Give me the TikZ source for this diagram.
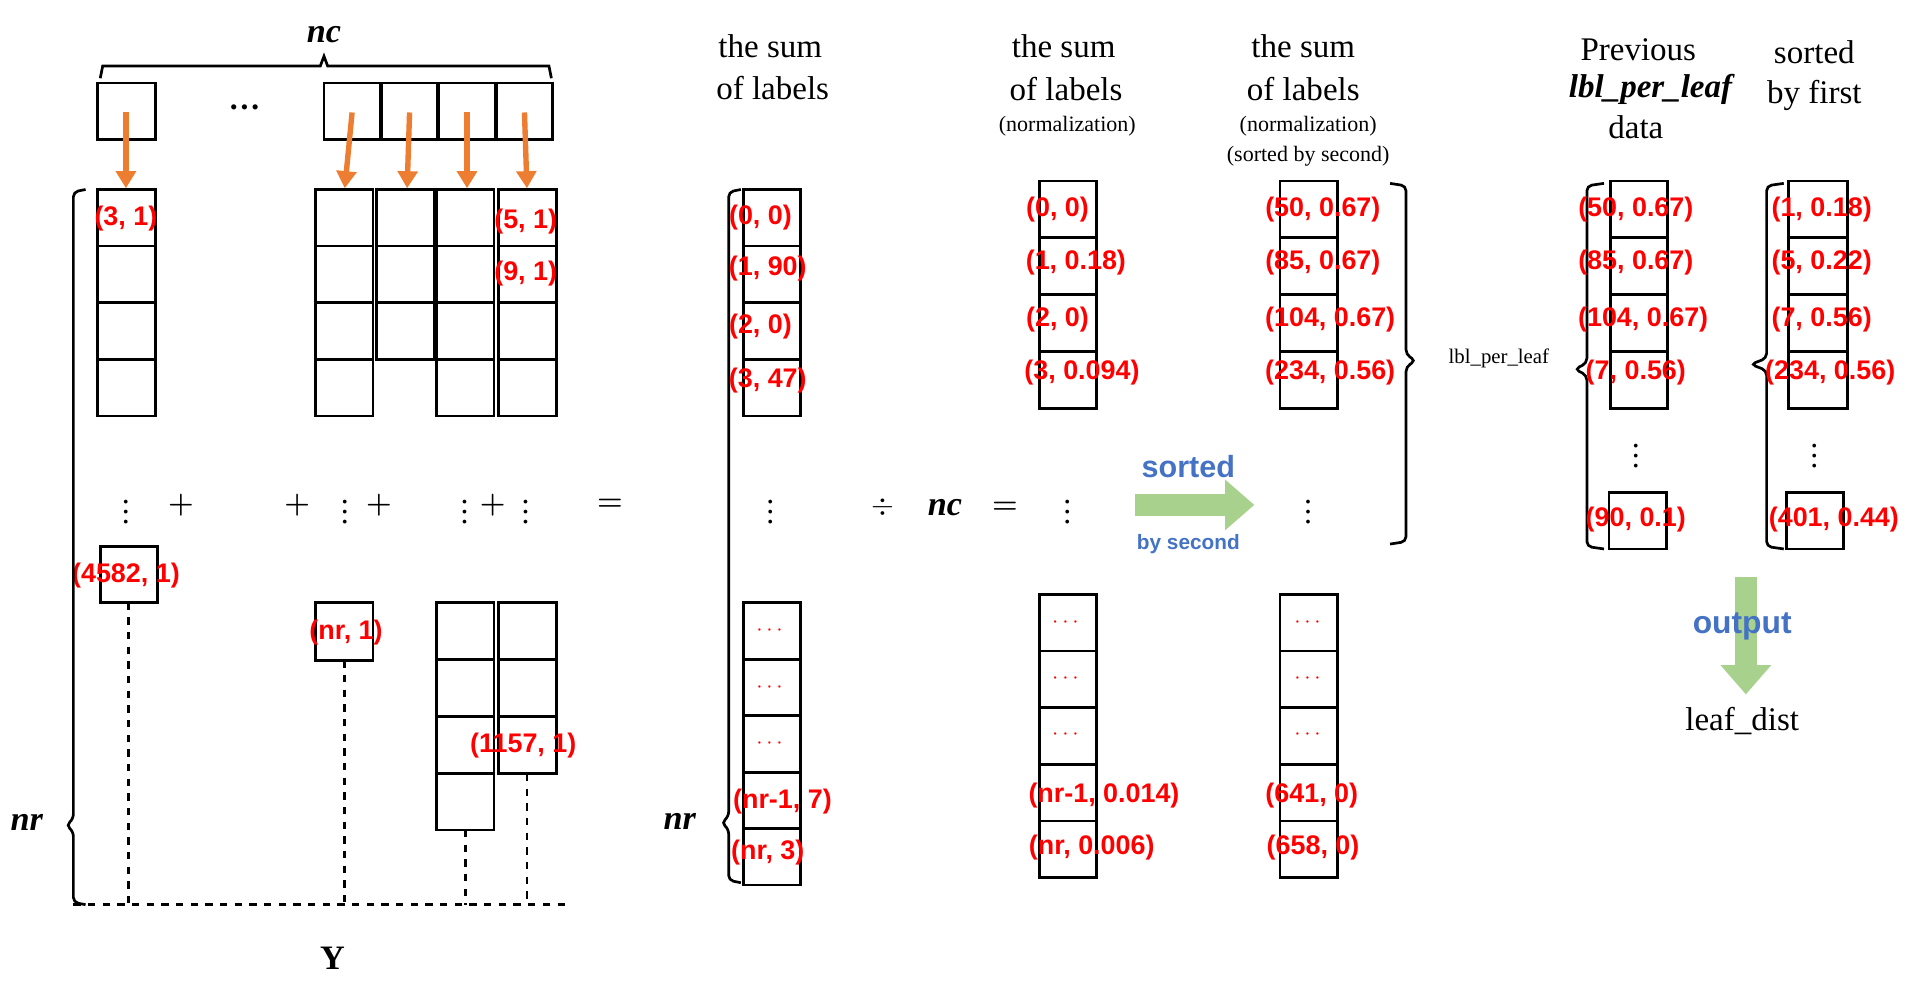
\documentclass[tikz,border=0pt]{standalone}
\usepackage{amsmath}
\usepackage{fontspec}
\setmainfont{Liberation Serif}
\newfontfamily\lblfont{Liberation Sans}
\usetikzlibrary{arrows.meta}
\definecolor{lblred}{RGB}{255,0,0}
\definecolor{arrorange}{RGB}{237,125,49}
\definecolor{arrgreen}{RGB}{169,209,142}
\definecolor{txtblue}{RGB}{68,114,196}
\tikzset{every picture/.style={line width=1.1pt},
  pair/.style={text=lblred,font=\lblfont\bfseries\fontsize{11}{13}\selectfont,inner sep=0pt},
  title/.style={font=\fontsize{13.5}{16}\selectfont,inner sep=0pt},
  subtitle/.style={font=\fontsize{9}{11}\selectfont,inner sep=0pt},
  sym/.style={font=\fontsize{13}{15}\selectfont,inner sep=0pt},
  mvar/.style={font=\bfseries\itshape\fontsize{14}{16}\selectfont,inner sep=0pt},
  orng/.style={arrorange,line width=2.2pt,-{Triangle[length=7pt,width=8pt]}},
  fat/.style={arrgreen,line width=9pt,-{Triangle[length=12pt,width=20pt]}},
  blue/.style={text=txtblue,font=\lblfont\bfseries,inner sep=0pt}}

\begin{document}
\begin{tikzpicture}[x=0.5pt,y=0.5pt,yscale=-1,xscale=1]
    \useasboundingbox (0,0) rectangle (1568,802);

    %Top row of nc columns
    \node[mvar] (nc) at (265,28) {nc};
    \draw (82,64) -- (84,54) -- (262,54) -- (265,46) -- (268,54) -- (449,54) -- (451,64);
    \draw (80,68) rectangle (127,114);
    \node[sym] (topdots) at (200,88) {\textbf{\dots}};
    \foreach \x in {265,312,359,406} \draw (\x,68) rectangle ++(46,46);

    %Columns of Y
    \foreach \x/\n in {80/4,258/4,308/3,357/4,408/4}
      \foreach \i in {1,...,\n} \draw (\x,155+46.3*\i-46.3) rectangle ++(47,46.3);
    \draw (82,447) rectangle (129,493);
    \draw (258,493) rectangle (305,540);
    \foreach \i in {1,...,4} \draw (357,493+46.5*\i-46.5) rectangle ++(47,46.5);
    \foreach \i in {1,...,3} \draw (408,493+46.5*\i-46.5) rectangle ++(47,46.5);

    %Orange arrows
    \foreach \a/\b/\c in {103/103/1,288/282/2,335/333/3,382/382/4,429/431/5} {
      \coordinate (s\c) at (\a,92); \coordinate (t\c) at (\b,154);
      \draw[orng] (s\c) -- (t\c);}

    \node[pair] (p31) at (103,179) {(3, 1)};
    \node[pair] (p51) at (430,181) {(5, 1)};
    \node[pair] (p91) at (430,224) {(9, 1)};
    \node[pair] (p4582) at (103,471) {(4582, 1)};
    \node[pair] (pnr1) at (283,517) {(nr, 1)};
    \node[pair] (p1157) at (428,610) {(1157, 1)};

    %Dots and operators
    \foreach \x/\s in {103/\vdots,148/+,243/+,282/\vdots,310/+,380/\vdots,403/+,430/\vdots,499/=}
      \node[sym] at (\x,413) {$\boldsymbol{\s}$};

    %Dashed connectors to Y
    \coordinate (d1) at (105,740); \coordinate (d2) at (282,740);
    \coordinate (d3) at (381,740); \coordinate (d4) at (431,740);
    \draw[dashed] (105,493) -- (d1);
    \draw[dashed] (282,540) -- (d2);
    \draw[dashed] (381,679) -- (d3);
    \draw[dashed] (431,633) -- (d4);
    \draw[dashed] (60,740) -- (462,740);
    \node[font=\bfseries\fontsize{14}{16}\selectfont] (Y) at (272,784) {Y};

    %Left bracket nr
    \draw[rounded corners=2pt] (70,155) -- (60,157) -- (60,670) -- (54,675) -- (60,680) -- (60,738) -- (70,740);
    \node[mvar] (nr1) at (22,673) {nr};

    %The sum of labels
    \node[title] (t1a) at (630,38) {the sum};
    \node[title] (t1b) at (632,72) {of labels};
    \foreach \i in {1,...,4} \draw (608,155+46.3*\i-46.3) rectangle ++(47,46.3);
    \foreach \i in {1,...,5} \draw (608,493+46.2*\i-46.2) rectangle ++(47,46.2);
    \draw[rounded corners=2pt] (606,155) -- (596,157) -- (596,668) -- (590,673) -- (596,678) -- (596,720) -- (606,722);
    \node[mvar] (nr2) at (556,672) {nr};
    \node[pair] at (622,178) {(0, 0)};
    \node[pair] at (628,220) {(1, 90)};
    \node[pair] at (622,267) {(2, 0)};
    \node[pair] at (628,311) {(3, 47)};
    \node[sym] at (630,413) {$\boldsymbol{\vdots}$};
    \foreach \y in {516,562,608} \node[text=lblred,font=\fontsize{9}{11}\selectfont] at (631,\y) {$\cdots$};
    \node[pair] at (640,656) {(nr-1, 7)};
    \node[pair] at (628,697) {(nr, 3)};

    \node[sym] at (722,415) {$\div$};
    \node[mvar] (nc2) at (773,415) {nc};
    \node[sym] at (822,415) {$\boldsymbol{=}$};

    %Normalization
    \node[title] at (870,38) {the sum};
    \node[title] at (872,73) {of labels};
    \node[subtitle] at (873,103) {(normalization)};
    \foreach \i in {1,...,4} \draw (850,148+46.5*\i-46.5) rectangle ++(47,46.5);
    \foreach \i in {1,...,5} \draw (850,486+46.4*\i-46.4) rectangle ++(47,46.4);
    \node[pair] at (865,171) {(0, 0)};
    \node[pair] at (880,215) {(1, 0.18)};
    \node[pair] at (865,261) {(2, 0)};
    \node[pair] at (885,305) {(3, 0.094)};
    \node[sym] at (873,413) {$\boldsymbol{\vdots}$};
    \foreach \y in {509,555,601} \node[text=lblred,font=\fontsize{9}{11}\selectfont] at (873,\y) {$\cdots$};
    \node[pair] at (903,651) {(nr-1, 0.014)};
    \node[pair] at (893,693) {(nr, 0.006)};

    %Sorted arrow
    \coordinate (sa) at (928,413); \coordinate (sb) at (1026,413);
    \draw[fat] (sa) -- (sb);
    \node[blue,font=\lblfont\bfseries\fontsize{12.5}{14}\selectfont] (srt) at (972,382) {sorted};
    \node[blue,font=\lblfont\bfseries\fontsize{8.5}{10}\selectfont] (bysec) at (972,445) {by second};

    %Sorted by second
    \node[title] at (1066,38) {the sum};
    \node[title] at (1066,73) {of labels};
    \node[subtitle] at (1070,103) {(normalization)};
    \node[subtitle] at (1070,128) {(sorted by second)};
    \foreach \i in {1,...,4} \draw (1047,148+46.5*\i-46.5) rectangle ++(47,46.5);
    \foreach \i in {1,...,5} \draw (1047,486+46.4*\i-46.4) rectangle ++(47,46.4);
    \node[pair] at (1082,171) {(50, 0.67)};
    \node[pair] at (1082,215) {(85, 0.67)};
    \node[pair] at (1088,261) {(104, 0.67)};
    \node[pair] at (1088,305) {(234, 0.56)};
    \node[sym] at (1070,413) {$\boldsymbol{\vdots}$};
    \foreach \y in {509,555,601} \node[text=lblred,font=\fontsize{9}{11}\selectfont] at (1071,\y) {$\cdots$};
    \node[pair] at (1073,651) {(641, 0)};
    \node[pair] at (1074,693) {(658, 0)};
    \draw[rounded corners=2pt] (1137,150) -- (1150,152) -- (1150,290) -- (1158,295) -- (1150,300) -- (1150,443) -- (1137,445);
    \node[font=\fontsize{8.5}{10}\selectfont] (lpl) at (1226,293) {lbl\_per\_leaf};

    %Previous lbl_per_leaf data
    \node[title] at (1340,41) {Previous};
    \node[font=\bfseries\itshape\fontsize{13.5}{16}\selectfont] at (1350,73) {lbl\_per\_leaf};
    \node[title] at (1338,104) {data};
    \foreach \i in {1,...,4} \draw (1317,148+46.5*\i-46.5) rectangle ++(47,46.5);
    \draw (1316,403) rectangle (1363,449);
    \draw[rounded corners=2pt] (1312,150) -- (1298,152) -- (1298,297) -- (1288,302) -- (1298,307) -- (1298,447) -- (1312,449);
    \node[pair] at (1338,171) {(50, 0.67)};
    \node[pair] at (1338,215) {(85, 0.67)};
    \node[pair] at (1344,261) {(104, 0.67)};
    \node[pair] at (1338,305) {(7, 0.56)};
    \node[sym] at (1338,367) {$\boldsymbol{\vdots}$};
    \node[pair] at (1338,425) {(90, 0.1)};

    %Sorted by first
    \node[title] at (1484,43) {sorted};
    \node[title] at (1484,78) {by first};
    \foreach \i in {1,...,4} \draw (1463,148+46.5*\i-46.5) rectangle ++(48,46.5);
    \draw (1461,403) rectangle (1508,449);
    \draw[rounded corners=2pt] (1459,150) -- (1445,152) -- (1445,293) -- (1432,298) -- (1445,303) -- (1445,447) -- (1459,449);
    \node[pair] at (1490,171) {(1, 0.18)};
    \node[pair] at (1490,215) {(5, 0.22)};
    \node[pair] at (1490,261) {(7, 0.56)};
    \node[pair] at (1497,305) {(234, 0.56)};
    \node[sym] at (1484,367) {$\boldsymbol{\vdots}$};
    \node[pair] at (1500,425) {(401, 0.44)};

    %Output
    \coordinate (oa) at (1428,472); \coordinate (ob) at (1428,568);
    \draw[fat] (oa) -- (ob);
    \node[blue,font=\lblfont\bfseries\fontsize{13}{15}\selectfont] (outp) at (1425,512) {output};
    \node[title] (leaf) at (1425,590) {leaf\_dist};
\end{tikzpicture}
\end{document}
